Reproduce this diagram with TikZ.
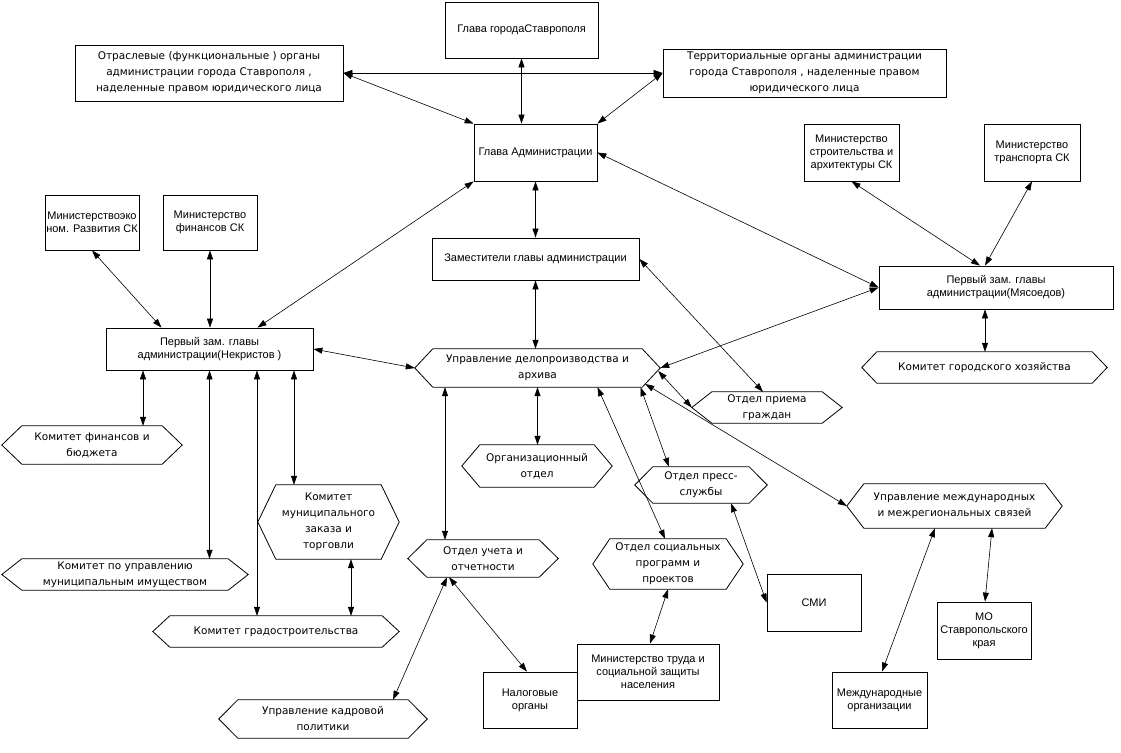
\documentclass[tikz,border=0pt]{standalone}
\usepackage{fontspec}
\setmainfont{Liberation Sans}
\newfontfamily\hexfont{DejaVu Sans}
\usetikzlibrary{arrows.meta}
\newcommand{\hexbox}[2]{\draw[hexline] (#1.west) -- ([xshift=#2]#1.north west) -- ([xshift=-#2]#1.north east) -- (#1.east) -- ([xshift=-#2]#1.south east) -- ([xshift=#2]#1.south west) -- cycle;}
\begin{document}
\begin{tikzpicture}[x=1pt,y=-1pt,
  rbox/.style={draw, line width=0.8pt, inner sep=0pt, align=center, font=\fontsize{11}{13}\selectfont},
  wbox/.style={draw, line width=0.8pt, inner sep=0pt, align=center, font=\hexfont\fontsize{10.5}{16}\selectfont},
  hbox/.style={inner sep=0pt, align=center, font=\hexfont\fontsize{10.5}{16}\selectfont},
  hexline/.style={line width=0.8pt},
  link/.style={line width=0.6pt, {Triangle[length=9pt,width=6pt]}-{Triangle[length=9pt,width=6pt]}}]
\fill[white] (0,0) rectangle (1121,752);
\useasboundingbox (0,0) rectangle (1121,752);
% rectangles
\node[rbox, minimum width=153pt, minimum height=56pt] (gorod) at (521.5,30) {Глава городаСтаврополя};
\node[wbox, minimum width=268pt, minimum height=56pt] (otr) at (209,73) {Отраслевые (функциональные ) органы\\администрации города Ставрополя ,\\наделенные правом юридического лица};
\node[wbox, minimum width=283pt, minimum height=48pt] (terr) at (804.5,73) {Территориальные органы администрации\\города Ставрополя , наделенные правом\\юридического лица};
\node[rbox, minimum width=123pt, minimum height=57pt] (glava) at (535.5,152.5) {Глава Администрации};
\node[rbox, minimum width=207pt, minimum height=42pt] (zam) at (535.5,259) {Заместители главы администрации};
\node[rbox, minimum width=94pt, minimum height=55pt] (minekon) at (92,222.5) {Министерствоэко\\ном. Развития СК};
\node[rbox, minimum width=94pt, minimum height=55pt] (minfin) at (210,222.5) {Министерство\\финансов СК};
\node[rbox, minimum width=207pt, minimum height=42pt] (nekr) at (209.5,349) {Первый зам. главы\\администрации(Некристов )};
\node[rbox, minimum width=95pt, minimum height=57pt] (minstroi) at (851.5,152.5) {Министерство\\строительства и\\архитектуры СК};
\node[rbox, minimum width=96pt, minimum height=57pt] (mintrans) at (1032,152.5) {Министерство\\транспорта СК};
\node[rbox, minimum width=234pt, minimum height=43pt] (myas) at (996,287.5) {Первый зам. главы\\администрации(Мясоедов)};
\node[rbox, minimum width=94pt, minimum height=56pt] (nalog) at (530,700) {Налоговые\\органы};
\node[rbox, minimum width=142pt, minimum height=56pt] (mintrud) at (648,672) {Министерство труда и\\социальной защиты\\населения};
\node[rbox, minimum width=94pt, minimum height=57pt] (smi) at (814,602.5) {СМИ};
\node[rbox, minimum width=94pt, minimum height=57pt] (mo) at (984,630.5) {МО\\Ставропольского\\края};
\node[rbox, minimum width=95pt, minimum height=56pt] (mezhorg) at (879.5,700) {Международные\\организации};
% hexagons
\node[hbox, minimum width=245pt, minimum height=31pt] (gkh) at (984.5,367.5) {Комитет городского хозяйства};
\node[hbox, minimum width=245pt, minimum height=38pt] (udel) at (537.5,368) {Управление делопроизводства и\\архива};
\node[hbox, minimum width=150pt, minimum height=31pt] (priem) at (767,407.5) {Отдел приема\\граждан};
\node[hbox, minimum width=150pt, minimum height=42pt] (org) at (537,466) {Организационный\\отдел};
\node[hbox, minimum width=132pt, minimum height=36pt] (press) at (701,485) {Отдел пресс-\\службы};
\node[hbox, minimum width=180pt, minimum height=38pt] (kfin) at (92,445) {Комитет финансов и\\бюджета};
\node[hbox, minimum width=141pt, minimum height=74pt] (kmz) at (328.5,522) {Комитет\\муниципального\\заказа и\\торговли};
\node[hbox, minimum width=246pt, minimum height=31pt] (kui) at (125,574.5) {Комитет по управлению\\муниципальным имуществом};
\node[hbox, minimum width=246pt, minimum height=31pt] (kgrad) at (276,631.5) {Комитет градостроительства};
\node[hbox, minimum width=208pt, minimum height=38pt] (kadr) at (323,719) {Управление кадровой\\политики};
\node[hbox, minimum width=150pt, minimum height=37pt] (uchet) at (483,558.5) {Отдел учета и\\отчетности};
\node[hbox, minimum width=150pt, minimum height=50pt] (socprog) at (668,564) {Отдел социальных\\программ и\\проектов};
\node[hbox, minimum width=215pt, minimum height=44pt] (umezh) at (954.5,506) {Управление международных\\и межрегиональных связей};
\hexbox{gkh}{15}
\hexbox{udel}{18}
\hexbox{priem}{20}
\hexbox{org}{18}
\hexbox{press}{18}
\hexbox{kfin}{20}
\hexbox{kmz}{18}
\hexbox{kui}{20}
\hexbox{kgrad}{17}
\hexbox{kadr}{19}
\hexbox{uchet}{19}
\hexbox{socprog}{17}
\hexbox{umezh}{17}
% connectors
\draw[link] (gorod.south) -- (gorod.south |- glava.north);
\draw[link] (otr.east) -- (terr.west);
\draw[link] (otr.east) -- (glava.north west);
\draw[link] (terr.west) -- (glava.north east);
\draw[link] (glava.south) -- (zam.north);
\draw[link] (glava.east) -- (myas.west);
\draw[link] (glava.south west) -- ([xshift=48pt]nekr.north);
\draw[link] (minekon.south) -- ([xshift=-48pt]nekr.north);
\draw[link] (minfin.south) -- (minfin.south |- nekr.north);
\draw[link] (zam.south) -- (zam.south |- udel.north);
\draw[link] (zam.east) -- ([xshift=-4pt]priem.north);
\draw[link] (myas.west) -- (udel.east);
\draw[link] (minstroi.south) -- ([xshift=-16pt]myas.north);
\draw[link] (mintrans.south) -- ([xshift=-11pt]myas.north);
\draw[link] ([xshift=-11pt]myas.south) -- ([xshift=-11pt]myas.south |- gkh.north);
\draw[link] (nekr.east) -- (udel.west);
\draw[link] ([xshift=-66.5pt]nekr.south) -- ([xshift=-66.5pt]nekr.south |- kfin.north);
\draw[link] (nekr.south) -- (nekr.south |- kui.north);
\draw[link] ([xshift=47.5pt]nekr.south) -- ([xshift=47.5pt]nekr.south |- kgrad.north);
\draw[link] ([xshift=84.5pt]nekr.south) -- ([xshift=84.5pt]nekr.south |- kmz.north);
\draw[link] ([xshift=22.5pt]kmz.south) -- ([xshift=22.5pt]kmz.south |- kgrad.north);
\draw[link] ([xshift=-92.5pt]udel.south) -- ([xshift=-92.5pt]udel.south |- uchet.north);
\draw[link] (udel.south) -- (udel.south |- org.north);
\draw[link] ([xshift=60pt]udel.south) -- ([xshift=-3pt]socprog.north);
\draw[link] ([xshift=103pt]udel.south) -- ([xshift=-32pt]press.north);
\draw[link] ([xshift=-2pt,yshift=-3pt]udel.east) -- (priem.west);
\draw[link] ([xshift=-15pt,yshift=-16pt]udel.east) -- (umezh.west);
\draw[link] ([xshift=30pt]press.south) -- (smi.west);
\draw[link] ([xshift=-36pt]uchet.south) -- ([xshift=70pt]kadr.north);
\draw[link] ([xshift=-34pt]uchet.south) -- ([xshift=-3pt]nalog.north);
\draw[link] (socprog.south) -- ([xshift=2pt]mintrud.north);
\draw[link] ([xshift=-19.5pt]umezh.south) -- ([xshift=2.5pt]mezhorg.north);
\draw[link] ([xshift=37.5pt]umezh.south) -- ([xshift=1pt]mo.north);
\end{tikzpicture}
\end{document}
